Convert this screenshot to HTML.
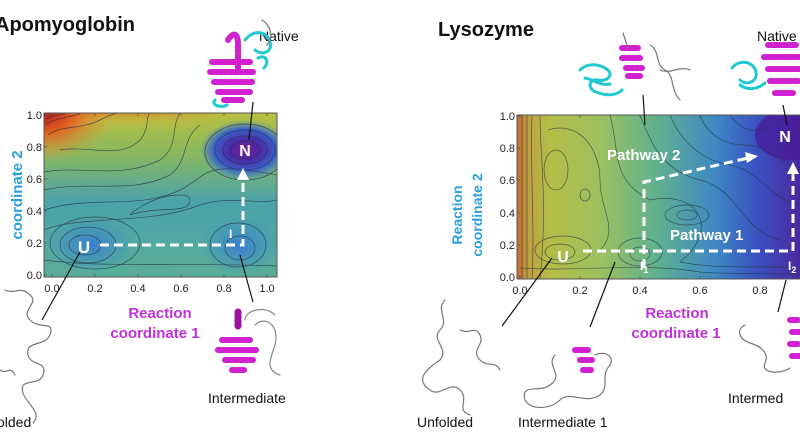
<!DOCTYPE html>
<html><head><meta charset="utf-8"><style>
html,body{margin:0;padding:0;background:#fff;width:800px;height:445px;overflow:hidden}
svg{display:block}
text{font-family:"Liberation Sans",Arial,sans-serif}
</style></head><body>
<svg width="800" height="445" viewBox="0 0 800 445" xmlns="http://www.w3.org/2000/svg">
<defs>
<linearGradient id="lg1" x1="0" y1="0" x2="0" y2="1">
<stop offset="0" stop-color="#b8c040"/><stop offset="0.25" stop-color="#88b860"/><stop offset="0.55" stop-color="#4aa2ac"/><stop offset="1" stop-color="#5aae98"/>
</linearGradient>
<linearGradient id="red1" x1="0" y1="0" x2="0" y2="1">
<stop offset="0" stop-color="#e07020" stop-opacity="0.8"/><stop offset="0.05" stop-color="#d8b040" stop-opacity="0.5"/><stop offset="0.12" stop-color="#d8c040" stop-opacity="0"/>
</linearGradient>
<linearGradient id="red1m" x1="0" y1="0" x2="1" y2="0">
<stop offset="0" stop-color="#fff"/><stop offset="0.5" stop-color="#fff" stop-opacity="0.6"/><stop offset="0.8" stop-color="#fff" stop-opacity="0"/>
</linearGradient>
<mask id="m1"><rect x="44" y="113" width="233" height="164" fill="url(#red1m)"/></mask>
<radialGradient id="red2" cx="0" cy="0" r="0.3">
<stop offset="0" stop-color="#c01818"/><stop offset="0.4" stop-color="#e06020"/><stop offset="1" stop-color="#e0a030" stop-opacity="0"/>
</radialGradient>
<radialGradient id="nb1" cx="0.5" cy="0.5" r="0.5">
<stop offset="0" stop-color="#7a1a8a"/><stop offset="0.35" stop-color="#4a2aa8"/><stop offset="0.7" stop-color="#3a60c8"/><stop offset="1" stop-color="#3a80c8" stop-opacity="0"/>
</radialGradient>
<radialGradient id="bb" cx="0.5" cy="0.5" r="0.5">
<stop offset="0" stop-color="#3a7ed0"/><stop offset="1" stop-color="#3a8ec8" stop-opacity="0"/>
</radialGradient>
<linearGradient id="lg2" x1="0" y1="0" x2="1" y2="0">
<stop offset="0" stop-color="#c86a30"/><stop offset="0.04" stop-color="#c0a040"/><stop offset="0.12" stop-color="#b4be48"/><stop offset="0.3" stop-color="#9cc060"/><stop offset="0.5" stop-color="#5eb090"/><stop offset="0.7" stop-color="#3e88c4"/><stop offset="0.85" stop-color="#3a50c0"/><stop offset="1" stop-color="#4a2aa0"/>
</linearGradient>
<clipPath id="c1"><rect x="44" y="113" width="233" height="164"/></clipPath>
<clipPath id="c2"><rect x="517" y="115" width="283" height="164"/></clipPath>
</defs>

<!-- LEFT PLOT -->
<g clip-path="url(#c1)">
<rect x="44" y="113" width="233" height="164" fill="url(#lg1)"/>
<rect x="44" y="113" width="233" height="164" fill="url(#red1)" mask="url(#m1)"/>
<rect x="44" y="113" width="233" height="164" fill="url(#red2)"/>
<ellipse cx="90" cy="245" rx="45" ry="28" fill="url(#bb)"/>
<ellipse cx="240" cy="245" rx="40" ry="30" fill="url(#bb)"/>
<ellipse cx="245" cy="150" rx="45" ry="30" fill="url(#nb1)"/>
<g fill="none" stroke="#234" stroke-width="0.7" opacity="0.75">
<ellipse cx="245" cy="150" rx="14" ry="9"/><ellipse cx="245" cy="150" rx="22" ry="14"/><ellipse cx="245" cy="150" rx="30" ry="20"/><ellipse cx="245" cy="152" rx="40" ry="28"/>
<ellipse cx="85" cy="245" rx="16" ry="10"/><ellipse cx="88" cy="245" rx="28" ry="18"/><ellipse cx="95" cy="243" rx="45" ry="26"/>
<ellipse cx="240" cy="248" rx="15" ry="12"/><ellipse cx="238" cy="245" rx="28" ry="22"/>
<path d="M44,260 C100,268 180,262 277,266"/><path d="M44,230 C80,215 150,225 200,205 C230,195 260,205 277,200"/>
<path d="M44,210 C90,195 140,210 180,190 C210,175 200,160 277,175"/>
<path d="M44,190 C90,180 130,195 170,175 C190,160 180,140 200,125"/>
<path d="M44,172 C80,165 120,180 160,160 C180,145 170,128 180,113"/>
<path d="M60,150 C90,145 120,160 140,140 C150,128 145,118 150,113"/>
<path d="M48,135 C60,125 80,130 100,120 C110,115 115,113 120,113"/>
<path d="M46,125 C55,118 65,118 80,114"/><path d="M46,119 C50,116 58,115 65,114"/>
<path d="M130,215 C160,205 190,215 190,200 C190,190 150,195 130,215"/>
</g>
</g>
<rect x="44" y="113" width="233" height="164" fill="none" stroke="#555" stroke-width="1"/>
<g stroke="#555" stroke-width="0.7">
<path d="M52,277v-3M95,277v-3M138,277v-3M181,277v-3M224,277v-3M267,277v-3M52,113v3M95,113v3M138,113v3M181,113v3M224,113v3M267,113v3"/>
<path d="M44,275h3M44,243h3M44,211h3M44,179h3M44,147h3M44,115h3"/>
</g>
<g font-size="11" fill="#222" text-anchor="middle">
<text x="52" y="292">0.0</text><text x="95" y="292">0.2</text><text x="138" y="292">0.4</text><text x="181" y="292">0.6</text><text x="224" y="292">0.8</text><text x="267" y="292">1.0</text>
</g>
<g font-size="11" fill="#222" text-anchor="end">
<text x="42" y="279">0.0</text><text x="42" y="247">0.2</text><text x="42" y="215">0.4</text><text x="42" y="183">0.6</text><text x="42" y="151">0.8</text><text x="42" y="119">1.0</text>
</g>
<path d="M100,245 H243 V178" fill="none" stroke="#fff" stroke-width="3" stroke-dasharray="9,5"/>
<path d="M237,180 L243,168 L249,180 z" fill="#fff"/>
<text x="84" y="253" font-size="17" font-weight="bold" fill="#fff" text-anchor="middle">U</text>
<text x="245" y="156" font-size="16" font-weight="bold" fill="#fff" text-anchor="middle">N</text>
<text x="229" y="238" font-size="12" font-weight="bold" fill="#fff">I</text>
<text transform="translate(22,195) rotate(-90)" font-size="15" font-weight="bold" fill="#2aa0dc" text-anchor="middle">coordinate 2</text>
<text x="160" y="318" font-size="15" font-weight="bold" fill="#c030d8" text-anchor="middle">Reaction</text>
<text x="155" y="338" font-size="15" font-weight="bold" fill="#c030d8" text-anchor="middle">coordinate 1</text>
<text x="-5" y="31" font-size="20" font-weight="bold" fill="#111">Apomyoglobin</text>
<text x="259" y="41" font-size="14" fill="#111">Native</text>
<text x="208" y="403" font-size="14" fill="#111">Intermediate</text>
<text x="-3" y="427" font-size="14" fill="#111">olded</text>
<g stroke="#111" stroke-width="1.2"><path d="M249,140 L253,102"/><path d="M80,252 L42,320"/><path d="M240,255 L253,302"/></g>
<g fill="none" stroke-linecap="round">
<path d="M245,40 c10,-12 22,-8 25,2 c3,10 -8,14 -15,8" stroke="#20c8d0" stroke-width="3"/>
<path d="M258,58 c8,-4 12,4 6,10 M215,100 c-5,6 8,8 12,5" stroke="#20c8d0" stroke-width="3"/>
<path d="M228,40 c5,-8 10,-8 10,5 v25" stroke="#d020d0" stroke-width="6" stroke-dasharray="3,2"/>
<path d="M212,62 h40 M210,72 h44 M214,82 h40 M218,92 h32 M224,100 h20" stroke="#d020d0" stroke-width="6" stroke-dasharray="3,2"/>
<path d="M262,20 c8,5 12,15 5,25" stroke="#888" stroke-width="1.5"/>
<path d="M238,312 v15" stroke="#a010a0" stroke-width="7" stroke-dasharray="2,2"/>
<path d="M222,340 h30 M218,350 h40 M225,360 h30 M232,370 h12" stroke="#d020d0" stroke-width="6" stroke-dasharray="3,2"/>
<path d="M255,325 c10,-10 25,0 20,20 c-5,15 -10,25 5,30 M245,320 c0,-10 20,-15 30,-5" stroke="#888" stroke-width="1.2"/>
<path d="M5,290 c10,5 15,-5 25,5 c10,8 -10,15 0,25 c10,10 25,0 20,15 c-5,12 -25,5 -22,20 c3,12 20,5 15,20 c-4,12 -25,2 -20,18 c3,10 20,20 10,30 M0,370 c8,5 10,-5 15,5" stroke="#777" stroke-width="1.2"/>
</g>

<!-- RIGHT PLOT -->
<g clip-path="url(#c2)">
<rect x="517" y="115" width="283" height="164" fill="url(#lg2)"/>
<ellipse cx="790" cy="135" rx="35" ry="25" fill="#4a1a98" opacity="0.7"/>
<g fill="none" stroke="#234" stroke-width="0.7" opacity="0.7">
<path d="M522,115 V279 M527,115 V279 M532,115 C530,170 535,230 532,279"/>
<path d="M540,115 C540,160 548,200 540,279"/>
<ellipse cx="556" cy="170" rx="12" ry="20"/><ellipse cx="585" cy="195" rx="5" ry="6"/>
<path d="M548,130 C580,120 600,150 600,180 C600,210 620,230 600,250"/>
<ellipse cx="560" cy="252" rx="15" ry="8"/><ellipse cx="563" cy="250" rx="28" ry="14"/>
<ellipse cx="640" cy="254" rx="10" ry="7"/><ellipse cx="640" cy="252" rx="22" ry="14"/>
<ellipse cx="687" cy="215" rx="10" ry="5"/><ellipse cx="687" cy="215" rx="22" ry="10"/>
<path d="M610,115 C620,150 610,180 650,200 C700,190 720,230 680,262 C720,270 760,265 800,268"/>
<path d="M640,115 C650,140 660,170 700,180 C740,190 740,230 780,240"/>
<path d="M670,115 C680,140 700,160 730,165 C760,170 770,200 800,205"/>
<path d="M700,115 C705,130 720,145 745,145 C770,145 780,165 800,170"/>
<path d="M730,115 C740,130 755,135 770,125"/>
<path d="M520,268 C580,272 640,262 700,272 C740,275 770,272 800,275"/>
</g>
</g>
<rect x="517" y="115" width="290" height="164" fill="none" stroke="#555" stroke-width="1"/>
<g stroke="#555" stroke-width="0.7">
<path d="M520,279v-3M580,279v-3M640,279v-3M700,279v-3M760,279v-3M520,115v3M580,115v3M640,115v3M700,115v3M760,115v3"/>
<path d="M517,277h3M517,245h3M517,213h3M517,180h3M517,148h3M517,116h3"/>
</g>
<g font-size="11" fill="#222" text-anchor="middle">
<text x="520" y="294">0.0</text><text x="580" y="294">0.2</text><text x="640" y="294">0.4</text><text x="700" y="294">0.6</text><text x="760" y="294">0.8</text>
</g>
<g font-size="11" fill="#222" text-anchor="end">
<text x="515" y="281">0.0</text><text x="515" y="249">0.2</text><text x="515" y="217">0.4</text><text x="515" y="184">0.6</text><text x="515" y="152">0.8</text><text x="515" y="120">1.0</text>
</g>
<g fill="none" stroke="#fff" stroke-width="3" stroke-dasharray="9,5">
<path d="M583,251 H793 V172"/>
<path d="M644,268 V182 L748,158"/>
</g>
<path d="M787,174 L793,162 L799,174 z" fill="#fff"/>
<path d="M745,152 L758,156 L747,163 z" fill="#fff"/>
<text x="563" y="262" font-size="16" font-weight="bold" fill="#fff" text-anchor="middle">U</text>
<text x="785" y="142" font-size="16" font-weight="bold" fill="#fff" text-anchor="middle">N</text>
<text x="607" y="160" font-size="15" font-weight="bold" fill="#fff">Pathway 2</text>
<text x="670" y="240" font-size="15" font-weight="bold" fill="#fff">Pathway 1</text>
<text x="640" y="270" font-size="12" font-weight="bold" fill="#fff">I<tspan font-size="9" dy="3">1</tspan></text>
<text x="788" y="270" font-size="12" font-weight="bold" fill="#fff">I<tspan font-size="9" dy="3">2</tspan></text>
<text transform="translate(462,215) rotate(-90)" font-size="14" font-weight="bold" fill="#2aa0dc" text-anchor="middle">Reaction</text>
<text transform="translate(482,215) rotate(-90)" font-size="14" font-weight="bold" fill="#2aa0dc" text-anchor="middle">coordinate 2</text>
<text x="677" y="318" font-size="15" font-weight="bold" fill="#c030d8" text-anchor="middle">Reaction</text>
<text x="676" y="338" font-size="15" font-weight="bold" fill="#c030d8" text-anchor="middle">coordinate 1</text>
<text x="438" y="36" font-size="20" font-weight="bold" fill="#111">Lysozyme</text>
<text x="757" y="41" font-size="14" fill="#111">Native</text>
<text x="728" y="403" font-size="14" fill="#111">Intermed</text>
<text x="417" y="427" font-size="14" fill="#111">Unfolded</text>
<text x="518" y="427" font-size="14" fill="#111">Intermediate 1</text>
<g stroke="#111" stroke-width="1.2"><path d="M645,125 L643,95"/><path d="M552,258 L502,326"/><path d="M615,262 L590,327"/><path d="M787,125 L783,105"/><path d="M786,280 L778,312"/></g>
<g fill="none" stroke-linecap="round">
<path d="M580,70 c8,-8 20,-6 28,0 c6,6 -2,12 -10,10 c-8,-2 -12,8 -2,12 c10,4 20,4 26,-2 M585,78 c10,2 15,8 25,6" stroke="#20c8d0" stroke-width="3"/>
<path d="M622,48 h16 M622,58 h18 M626,68 h16 M628,76 h12" stroke="#d020d0" stroke-width="6" stroke-dasharray="3,2"/>
<path d="M623,33 l5,15 M650,45 c10,5 5,20 15,25 c10,5 5,20 15,30 M660,70 c10,5 20,-5 30,0" stroke="#777" stroke-width="1.2"/>
<path d="M732,68 c8,-10 22,-6 24,4 c2,10 -10,14 -16,8 M740,85 c8,6 18,4 25,-2" stroke="#20c8d0" stroke-width="3"/>
<path d="M768,45 h30 M764,57 h36 M768,69 h32 M770,81 h28 M775,93 h20" stroke="#d020d0" stroke-width="6" stroke-dasharray="3,2"/>
<path d="M575,350 h15 M580,360 h12 M583,370 h10" stroke="#d020d0" stroke-width="6" stroke-dasharray="3,2"/>
<path d="M555,355 c-10,10 10,20 -5,30 c-10,8 -30,-2 -25,15 c5,10 25,10 35,0 c10,-10 25,5 40,-5 c10,-8 0,-20 10,-30 c5,-8 -5,-15 -15,-10" stroke="#777" stroke-width="1.2"/>
<path d="M445,300 c-10,10 5,20 -5,30 c-10,10 10,18 0,30 c-15,10 -25,20 -10,30 c10,8 20,-10 30,0 c10,10 -5,20 10,25 M460,330 c10,5 15,-5 20,5 c5,10 -10,15 0,25 c8,8 15,0 20,10" stroke="#777" stroke-width="1.2"/>
<path d="M790,320 h10 M792,332 h8 M790,344 h10 M792,356 h8" stroke="#d020d0" stroke-width="6" stroke-dasharray="3,2"/>
<path d="M745,325 c-10,5 -5,15 5,18 c10,3 20,10 15,20 c-5,10 15,12 25,5" stroke="#777" stroke-width="1.2"/>
</g>
</svg>
</body></html>
